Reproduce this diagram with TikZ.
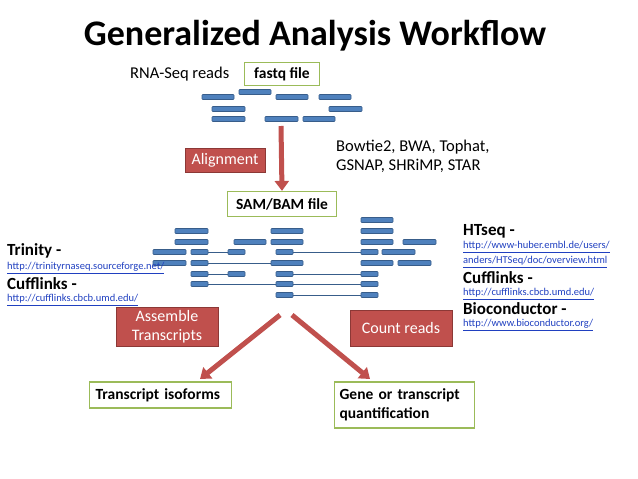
\documentclass[tikz,border=0pt]{standalone}
\usepackage{fontspec}
\setmainfont{Carlito}
\usetikzlibrary{arrows.meta}
\definecolor{rd}{HTML}{C0504D}
\definecolor{rdb}{HTML}{8C3836}
\definecolor{bl}{HTML}{4F81BD}
\definecolor{blb}{HTML}{385D8A}
\definecolor{gr}{HTML}{9BBB59}
\definecolor{lk}{HTML}{2040C0}
\begin{document}
\begin{tikzpicture}[x=1pt,y=-1pt,
  gbox/.style={draw=gr,line width=1.2pt,fill=white,font=\bfseries\fontsize{15.5}{19}\selectfont,inner sep=4pt},
  rbox/.style={draw=rdb,fill=rd,text=white,font=\fontsize{16}{19}\selectfont,align=center,inner sep=3pt},
  big/.style={draw=rd,line width=5pt,-{Triangle[width=14pt,length=10pt]}},
  lab/.style={font=\fontsize{16.5}{19}\selectfont,anchor=west,inner sep=0pt},
  blab/.style={font=\bfseries\fontsize{17}{20}\selectfont,anchor=west,inner sep=0pt},
  lnk/.style={font=\fontsize{10.5}{12}\selectfont,text=lk,anchor=west,inner sep=0pt},
  rd/.style={fill=bl,draw=blb,line width=0.6pt,rounded corners=0.8pt},
  ln/.style={draw=blb,line width=0.7pt}]
\useasboundingbox (0,0) rectangle (638,479);
\node[font=\bfseries\fontsize{36}{40}\selectfont] (title) at (315,36) {Generalized Analysis Workflow};
\node[lab] (rna) at (130,74) {RNA-Seq reads};
\node[gbox,minimum width=75pt,minimum height=23pt] (fastq) at (282,74) {fastq file};
% reads
\foreach \a/\b/\y in {202/234/97,239/271/92,276/308/97,319/351/97,212/245/109,329/362/109,212/245/119,265/298/119,303/335/119}
  \path[rd] (\a,\y-2.5) rectangle (\b,\y+2.5);
\coordinate (a1) at (281,126);
\node[gbox,minimum width=109pt,minimum height=25pt] (sam) at (282,204) {SAM/BAM file};
\draw[big] (a1) -- (sam.north);
\node[rbox,minimum width=80pt,minimum height=24pt] (align) at (225,160) {Alignment};
\node[lab] (bw1) at (336,147) {Bowtie2, BWA, Tophat,};
\node[lab] (bw2) at (336,166) {GSNAP, SHRiMP, STAR};
% aligned reads
\foreach \a/\b/\y in {361/393/220,175/208/231,271/303/231,361/393/231,175/208/242,234/266/242,271/303/242,361/393/242,403/436/242,
  153/186/252,191/208/252,228/245/252,276/293/252,361/378/252,382/415/252,
  153/186/263,191/208/263,271/303/263,361/393/263,398/431/263,
  191/208/274,228/245/274,276/293/274,361/378/274,
  191/208/284,276/293/284,361/378/284,276/293/295,361/378/295}
  \path[rd] (\a,\y-2.5) rectangle (\b,\y+2.5);
\foreach \a/\b/\y in {208/228/252,293/361/252,208/271/263,208/228/274,293/361/274,208/276/284,293/361/284,293/361/295}
  \draw[ln] (\a,\y) -- (\b,\y);
% left
\node[blab] (tri) at (7,251) {Trinity -};
\node[lnk] (tril) at (7,268) {\underline{http://trinityrnaseq.sourceforge.net/}};
\node[blab] (cuf) at (7,284) {Cufflinks -};
\node[lnk] (cufl) at (7,300) {\underline{http://cufflinks.cbcb.umd.edu/}};
% right
\node[blab] (hts) at (463,231) {HTseq -};
\node[lnk] (hts1) at (463,247) {\underline{http://www-huber.embl.de/users/}};
\node[lnk] (hts2) at (463,262) {\underline{anders/HTSeq/doc/overview.html}};
\node[blab] (cuf2) at (463,278) {Cufflinks -};
\node[lnk] (cuf2l) at (463,294) {\underline{http://cufflinks.cbcb.umd.edu/}};
\node[blab] (bio) at (463,309) {Bioconductor -};
\node[lnk] (biol) at (463,325) {\underline{http://www.bioconductor.org/}};
% lower
\node[rbox,minimum width=102pt,minimum height=38pt] (asm) at (167,327) {Assemble\\Transcripts};
\node[rbox,minimum width=102pt,minimum height=36pt] (cnt) at (401,328) {Count reads};
\node[gbox,minimum width=142pt,minimum height=26pt,anchor=west,align=left,text width=130pt] (iso) at (89,395) {Transcript isoforms};
\node[gbox,minimum width=140pt,minimum height=46pt,anchor=west,align=left,text width=130pt] (gene) at (334,405) {Gene or transcript\\quantification};
\coordinate (l0) at (280,315);
\coordinate (r0) at (292,315);
\draw[big] (l0) -- (200,379);
\draw[big] (r0) -- (370,379);
\end{tikzpicture}
\end{document}
